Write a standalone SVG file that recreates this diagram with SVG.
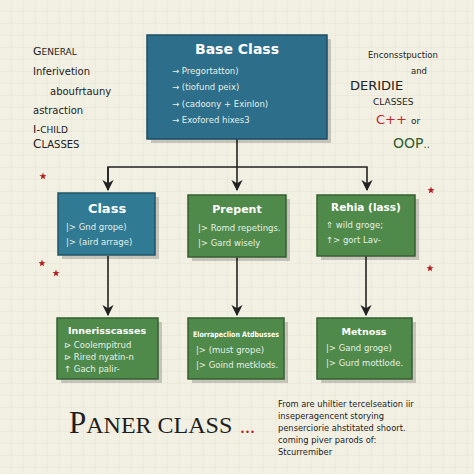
<svg xmlns="http://www.w3.org/2000/svg" width="474" height="474" viewBox="0 0 474 474">
<defs>
<pattern id="grid" width="12" height="12" patternUnits="userSpaceOnUse">
<path d="M12 0V12M0 12H12" fill="none" stroke="#e1e1d2" stroke-width="0.8"/>
</pattern>
<marker id="ah" viewBox="0 0 10 10" refX="9" refY="5" markerWidth="7" markerHeight="7" orient="auto">
<path d="M0 0L10 5L0 10L3 5Z" fill="#222"/>
</marker>
<style>
.note{font-family:"DejaVu Sans","Liberation Sans",sans-serif;fill:#222;}
.shadow{fill:#000;opacity:0.18;}
.blue{fill:#2d6e8a;stroke:#1d4d62;stroke-width:1.5;}
.teal{fill:#307a93;stroke:#1f5668;stroke-width:1.5;}
.green{fill:#4f8a4b;stroke:#345f32;stroke-width:1.5;}
.title{font-family:"DejaVu Sans","Liberation Sans",sans-serif;fill:#fff;font-weight:bold;text-anchor:middle;}
.item{font-family:"DejaVu Sans","Liberation Sans",sans-serif;fill:#e6f0e6;font-size:8.5px;}
.conn{fill:none;stroke:#222;stroke-width:1.6;}
.star{fill:#b22222;}
</style>
</defs>
<rect width="474" height="474" fill="#f2f0e3"/>
<rect width="474" height="474" fill="url(#grid)"/>

<g id="notes-left" class="note" font-size="10">
<text x="33" y="55" font-size="11">G<tspan font-size="9">ENERAL</tspan></text>
<text x="33" y="75">Inferivetion</text>
<text x="50" y="95">aboufrtauny</text>
<text x="33" y="114">astraction</text>
<text x="33" y="133" font-size="11">I-<tspan font-size="9">CHILD</tspan></text>
<text x="33" y="148" font-size="12">C<tspan font-size="10">LASSES</tspan></text>
</g>

<g id="notes-right" class="note">
<text x="368" y="58" font-size="8.5">Enconsstpuction</text>
<text x="411" y="74" font-size="8.5">and</text>
<text x="350" y="90" font-size="13">DERIDIE</text>
<text x="373" y="105" font-size="9">CLASSES</text>
<text x="376" y="124" font-size="13"><tspan fill="#c0262a">C++</tspan> <tspan font-size="9">or</tspan></text>
<text x="393" y="148" font-size="14" fill="#2f5e2f">OOP<tspan font-size="10">..</tspan></text>
</g>

<g id="stars">
<path class="star" transform="translate(43 176) scale(0.7) translate(-43 -176)" d="M43 171l1.3 3.6 3.7.2-2.9 2.4 1 3.6-3.1-2-3.1 2 1-3.6-2.9-2.4 3.7-.2z"/>
<path class="star" transform="translate(431 190) scale(0.7) translate(-431 -190)" d="M431 185l1.3 3.6 3.7.2-2.9 2.4 1 3.6-3.1-2-3.1 2 1-3.6-2.9-2.4 3.7-.2z"/>
<path class="star" transform="translate(42 263) scale(0.7) translate(-42 -263)" d="M42 258l1.3 3.6 3.7.2-2.9 2.4 1 3.6-3.1-2-3.1 2 1-3.6-2.9-2.4 3.7-.2z"/>
<path class="star" transform="translate(56 273) scale(0.7) translate(-56 -273)" d="M56 268l1.3 3.6 3.7.2-2.9 2.4 1 3.6-3.1-2-3.1 2 1-3.6-2.9-2.4 3.7-.2z"/>
<path class="star" transform="translate(430 268) scale(0.7) translate(-430 -268)" d="M430 263l1.3 3.6 3.7.2-2.9 2.4 1 3.6-3.1-2-3.1 2 1-3.6-2.9-2.4 3.7-.2z"/>
</g>

<g id="connectors">
<path class="conn" d="M237 139V190" marker-end="url(#ah)"/>
<path class="conn" d="M108 190V167H367V190" marker-end="url(#ah)"/>
<path class="conn" d="M108 167V190" marker-end="url(#ah)"/>
<path class="conn" d="M108 256V315" marker-end="url(#ah)"/>
<path class="conn" d="M237 257V315" marker-end="url(#ah)"/>
<path class="conn" d="M366 256V315" marker-end="url(#ah)"/>
</g>

<g id="base-class">
<rect class="shadow" x="151" y="39" width="180" height="104"/>
<rect class="blue" x="147" y="35" width="180" height="104"/>
<text class="title" x="237" y="54" font-size="14">Base Class</text>
<g class="item" font-size="9.5">
<text x="172" y="74">→  Pregortatton)</text>
<text x="172" y="90">→  (tiofund peix)</text>
<text x="172" y="107">→  (cadoony + Exinlon)</text>
<text x="172" y="123">→  Exofored hixes3</text>
</g>
</g>

<g id="class">
<rect class="shadow" x="62" y="197" width="97" height="62"/>
<rect class="teal" x="58" y="193" width="97" height="62"/>
<text class="title" x="107" y="213" font-size="13">Class</text>
<text class="item" x="66" y="230">|&gt;  Gnd grope)</text>
<text class="item" x="66" y="245">|&gt;  (aird arrage)</text>
</g>

<g id="prepent">
<rect class="shadow" x="192" y="199" width="98" height="62"/>
<rect class="green" x="188" y="195" width="98" height="62"/>
<text class="title" x="237" y="213" font-size="11">Prepent</text>
<text class="item" x="198" y="231">|&gt;  Romd repetings.</text>
<text class="item" x="198" y="246">|&gt;  Gard wisely</text>
</g>

<g id="rehia-class">
<rect class="shadow" x="321" y="199" width="98" height="61"/>
<rect class="green" x="317" y="195" width="98" height="61"/>
<text class="title" x="366" y="211" font-size="10.5">Rehia (lass)</text>
<text class="item" x="326" y="228">⇑  wild groge;</text>
<text class="item" x="326" y="243">↑&gt;  gort Lav-</text>
</g>

<g id="innerisscasses">
<rect class="shadow" x="61" y="322" width="101" height="61"/>
<rect class="green" x="57" y="318" width="101" height="61"/>
<text class="title" x="107" y="334" font-size="9.5">Innerisscasses</text>
<g class="item" font-size="7">
<text x="64" y="348">⊳  Coolempitrud</text>
<text x="64" y="360">⊳  Rired nyatin-n</text>
<text x="64" y="372">↑  Gach palir-</text>
</g>
</g>

<g id="elorrapeclion">
<rect class="shadow" x="192" y="322" width="96" height="61"/>
<rect class="green" x="188" y="318" width="96" height="61"/>
<text class="title" x="236" y="337" font-size="7.5" font-weight="normal" textLength="86" lengthAdjust="spacingAndGlyphs">Elorrapeclion Atdbusses</text>
<text class="item" x="196" y="353" font-size="8">|&gt;  (must grope)</text>
<text class="item" x="196" y="368" font-size="8">|&gt;  Goind metklods.</text>
</g>

<g id="metnoss">
<rect class="shadow" x="321" y="322" width="95" height="61"/>
<rect class="green" x="317" y="318" width="95" height="61"/>
<text class="title" x="364" y="335" font-size="9.5">Metnoss</text>
<text class="item" x="326" y="351" font-size="8">|&gt;  Gand groge)</text>
<text class="item" x="326" y="366" font-size="8">|&gt;  Gurd mottlode.</text>
</g>

<g id="footer">
<text x="69" y="433" font-family="Liberation Serif,serif" font-size="31" fill="#1e1e1e">P<tspan font-size="24">ANER CLASS</tspan> <tspan fill="#b22222" font-size="20">...</tspan></text>
<g class="note" font-size="8.3">
<text x="278" y="407">From are uhiltier tercelseation iir</text>
<text x="278" y="419">inseperagencent storying</text>
<text x="278" y="431">penserciorie ahstitated shoort.</text>
<text x="278" y="443">coming piver parods of:</text>
<text x="278" y="455">Stcurremiber</text>
</g>
</g>
</svg>
